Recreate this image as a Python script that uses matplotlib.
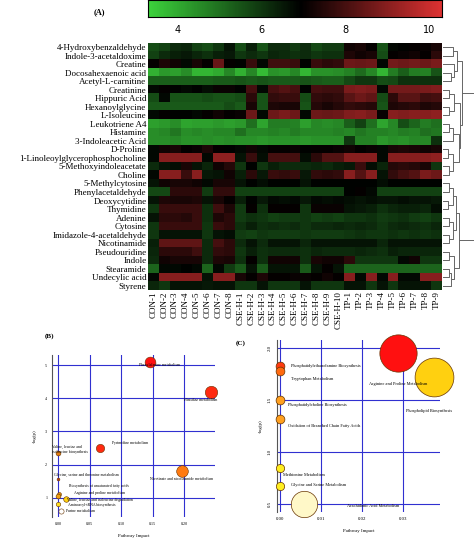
import matplotlib
matplotlib.use("Agg")
import matplotlib.pyplot as plt
import numpy as np
from matplotlib.colors import LinearSegmentedColormap

plt.rcParams['font.family'] = ['Liberation Serif', 'DejaVu Serif']

metabolites = ["4-Hydroxybenzaldehyde","Indole-3-acetaldoxime","Creatine","Docosahexaenoic acid",
 "Acetyl-L-carnitine","Creatinine","Hippuric Acid","Hexanoylglycine","L-Isoleucine","Leukotriene A4",
 "Histamine","3-Indoleacetic Acid","D-Proline","1-Linoleoylglycerophosphocholine","5-Methoxyindoleacetate",
 "Choline","5-Methylcytosine","Phenylacetaldehyde","Deoxycytidine","Thymidine","Adenine","Cytosine",
 "Imidazole-4-acetaldehyde","Nicotinamide","Pseudouridine","Indole","Stearamide","Undecylic acid","Styrene"]
samples = [f"CON-{i}" for i in range(1,9)] + [f"CSE-H-{i}" for i in range(1,11)] + [f"TP-{i}" for i in range(1,10)]

values = [
 [5.6,5.8,6.2,6.3,5.8,5.6,6.0,6.6, 5.6,6.4,5.5,6.2,6.2,5.9,6.2,5.7,5.9,5.9, 7.2,7.3,7.0,5.5,6.8,6.9,7.0,7.1,7.3],
 [5.8,6.2,6.4,6.5,6.3,6.1,6.4,6.5, 6.0,6.2,6.0,6.3,6.2,6.1,6.2,6.0,6.1,6.1, 7.4,7.2,7.3,5.6,7.0,7.1,7.2,7.0,7.6],
 [7.0,7.4,7.2,6.8,7.3,7.0,8.5,7.0, 6.9,7.8,6.8,7.9,7.9,7.8,6.9,7.8,7.6,7.7, 8.6,8.5,8.6,6.8,8.7,8.6,8.7,8.6,8.8],
 [3.9,4.3,4.2,4.5,3.8,3.8,4.0,4.6, 3.9,4.6,3.7,4.4,4.3,4.6,3.8,4.4,4.4,4.5, 4.7,5.1,4.6,3.8,4.8,5.3,4.8,4.7,5.5],
 [5.3,5.3,5.3,5.3,5.3,5.3,5.4,5.4, 5.5,5.4,5.5,5.4,5.4,5.4,5.5,5.4,5.3,5.3, 5.7,6.0,6.0,5.6,5.7,6.1,6.1,6.1,6.1],
 [6.8,7.0,6.9,6.8,6.9,6.7,7.1,7.1, 6.9,8.0,6.8,8.0,8.2,8.0,6.9,8.0,7.9,7.9, 8.8,8.9,8.8,6.8,8.7,8.7,8.7,8.8,8.9],
 [5.6,6.8,5.5,5.5,5.5,5.6,5.5,5.5, 5.6,7.6,5.5,7.7,7.8,7.8,5.6,7.7,7.6,7.7, 8.3,8.6,8.4,5.6,7.6,8.3,8.3,7.9,8.0],
 [5.4,5.4,5.4,5.4,5.4,5.4,5.4,5.6, 5.4,7.3,5.5,7.4,7.3,7.3,5.5,7.5,7.3,7.5, 7.7,7.6,7.5,5.5,7.4,7.5,7.6,7.4,7.5],
 [6.8,7.0,6.9,6.9,6.8,7.0,7.2,7.0, 7.1,8.6,6.8,8.6,8.8,8.6,6.8,8.6,8.5,8.6, 8.9,9.0,8.8,7.1,9.0,8.9,9.0,9.0,9.1],
 [4.2,4.3,4.5,4.1,4.2,4.2,4.3,4.2, 4.3,5.0,4.1,4.8,4.8,4.7,4.2,4.6,4.5,4.6, 5.3,5.8,5.0,4.1,4.6,5.6,5.2,4.8,5.0],
 [4.5,4.6,4.9,4.5,4.6,4.5,4.6,4.6, 5.0,4.6,4.6,4.7,4.6,4.8,4.6,4.6,4.6,4.7, 4.6,4.9,4.7,4.7,4.6,4.8,4.7,5.0,4.9],
 [4.5,4.5,4.6,4.4,4.4,4.5,4.4,4.5, 4.4,4.4,4.3,4.4,4.4,4.4,4.3,4.4,4.4,4.4, 6.0,4.7,4.7,4.3,4.5,4.4,4.6,4.6,6.1],
 [6.8,7.2,7.3,7.0,7.1,7.4,7.0,6.9, 6.8,7.2,6.8,7.0,7.0,7.1,6.9,7.0,7.0,7.1, 7.2,7.0,7.1,6.8,7.3,7.4,7.3,7.2,7.3],
 [6.8,9.0,9.0,9.0,9.0,6.8,9.1,9.1, 6.6,7.8,6.7,8.0,8.0,8.0,6.7,7.6,8.2,8.2, 9.0,9.0,9.0,6.8,9.0,9.0,9.0,9.0,9.1],
 [6.2,6.6,6.7,7.3,6.6,6.3,7.2,7.5, 6.0,6.9,6.0,6.4,6.2,6.2,6.2,6.3,6.2,6.4, 6.5,7.8,6.7,6.3,7.5,7.6,7.5,7.3,6.0],
 [6.8,9.0,9.0,7.8,9.0,6.5,6.6,7.2, 6.4,7.6,6.5,7.8,7.7,7.8,6.5,7.7,7.6,7.7, 9.0,8.2,9.0,6.6,7.7,8.0,8.2,8.8,8.6],
 [6.6,7.2,7.3,7.3,7.2,6.8,7.3,7.3, 6.6,6.9,6.7,6.9,6.9,6.9,6.6,6.9,6.9,6.9, 6.9,6.9,6.9,6.7,6.9,6.9,6.9,6.9,6.9],
 [5.7,5.7,7.6,7.6,7.6,5.9,7.7,7.7, 5.8,5.8,5.8,5.8,5.8,5.8,5.8,5.8,5.8,5.8, 6.9,7.0,6.8,5.8,5.8,5.8,5.8,5.8,5.8],
 [6.6,7.4,7.3,7.3,7.4,6.6,7.3,7.0, 6.4,6.9,6.5,6.8,6.7,6.8,6.5,6.8,6.7,6.8, 6.7,6.6,6.7,6.6,6.6,6.7,6.6,6.6,6.5],
 [6.0,7.8,7.8,7.8,7.8,6.1,7.9,7.4, 5.9,7.0,6.1,7.0,7.0,7.0,6.0,7.1,7.1,7.1, 6.6,6.5,6.4,6.1,6.3,6.4,6.4,6.3,6.7],
 [6.6,7.6,7.6,7.5,7.8,6.1,7.4,7.6, 5.9,6.1,6.0,5.8,5.9,5.9,6.0,5.8,5.9,5.8, 6.0,6.0,6.1,5.9,6.0,6.1,5.9,5.8,6.0],
 [6.0,7.8,7.8,7.8,7.8,6.0,7.8,7.6, 6.1,6.4,6.1,6.2,6.1,6.2,6.0,6.2,6.2,6.3, 6.2,6.3,6.2,6.0,6.2,6.3,6.2,6.1,6.3],
 [6.0,6.6,6.6,6.6,6.6,6.0,6.6,6.7, 5.9,5.8,6.0,5.9,5.9,5.9,6.0,5.9,5.9,5.9, 6.0,6.1,6.0,6.0,6.1,6.0,6.1,6.0,6.1],
 [6.4,8.4,8.4,8.4,8.4,6.2,8.0,7.6, 6.2,6.6,6.2,6.6,6.6,6.6,6.3,6.6,6.6,6.6, 6.6,6.6,6.6,6.3,6.6,6.6,6.6,6.6,6.6],
 [6.3,7.6,7.6,7.6,7.9,6.2,7.7,7.6, 6.0,6.4,6.1,6.2,6.2,6.2,6.1,6.3,6.2,6.2, 6.2,6.3,6.2,6.1,6.4,6.3,6.3,6.3,6.3],
 [6.2,7.2,7.3,7.3,7.3,6.2,7.4,7.3, 6.1,7.0,6.1,7.2,7.2,7.2,6.1,7.3,7.2,7.2, 7.6,6.0,6.0,6.0,6.0,6.8,7.2,6.0,6.0],
 [5.2,6.8,6.8,6.9,6.8,5.2,6.8,5.9, 5.4,6.6,5.4,6.6,6.6,6.6,5.4,6.6,7.0,6.6, 5.2,5.2,5.2,5.2,5.2,5.2,5.2,5.2,5.2],
 [6.8,9.0,9.0,9.0,9.0,6.6,9.0,9.0, 7.3,7.0,7.4,7.0,7.0,7.1,7.1,7.0,7.2,7.0, 9.0,6.8,9.0,6.8,9.0,6.8,6.8,9.0,9.0],
 [6.3,6.0,6.6,6.6,6.6,6.5,6.6,6.6, 6.0,6.0,6.6,6.0,6.0,6.0,6.6,6.0,6.0,6.0, 6.6,6.6,6.0,6.6,6.0,6.6,6.6,6.6,6.0],
]

# dendrogram merges: (left, right, height); leaf ids are row indices 0..28, new nodes from 29
merges = [(0,1,.3),(3,4,.25),(2,30,.35),(29,31,.45),(5,6,.2),(7,8,.2),(33,34,.35),
          (9,10,.2),(36,11,.3),(12,13,.15),(14,15,.2),(38,39,.3),(37,40,.5),(35,41,.55),(32,42,.6),
          (16,17,.2),(18,19,.15),(44,45,.3),(20,21,.2),(22,23,.2),(47,48,.3),(46,49,.4),
          (24,25,.2),(26,27,.2),(52,28,.25),(51,53,.35),(50,54,.5),(43,55,1.0)]

# panel B
b_names = ["Phenylalanine metabolism","Histidine metabolism","Pyrimidine metabolism",
           "Nicotinate and nicotinamide metabolism","Valine, leucine and\nisoleucine biosynthesis",
           "Glycine, serine and threonine metabolism","Biosynthesis of unsaturated fatty acids",
           "Arginine and proline metabolism","Valine, leucine and isoleucine degradation",
           "Aminoacyl-tRNA biosynthesis","Purine metabolism"]
b_x = [0.145, 0.242, 0.066, 0.197, 0.0, 0.0, 0.002, 0.0, 0.012, 0.0, 0.005]
b_y = [5.1, 4.2, 2.5, 1.8, 2.35, 1.55, 1.1, 1.05, 0.95, 0.8, 0.6]
b_size = [60, 80, 36, 70, 12, 4, 8, 12, 16, 10, 14]
b_col = ["#ff1010","#ff2a10","#ff2a10","#ff7a10","#e07a10","#c04010","#e09010","#f0a010","#ffd010","#ffe020","#ffffff"]
b_lab = [(0.128,5.0),(0.2,3.95),(0.085,2.65),(0.146,1.55),(-0.009,2.45),(-0.007,1.7),(0.018,1.35),(0.025,1.15),(0.014,0.93),(0.015,0.78),(0.013,0.6)]

# panel C
c_names = ["Phosphatidylethanolamine Biosynthesis","Tryptophan Metabolism","Phosphatidylcholine Biosynthesis",
           "Oxidation of Branched Chain Fatty Acids","Methionine Metabolism","Glycine and Serine Metabolism",
           "Arginine and Proline Metabolism","Phospholipid Biosynthesis","Arachidonic Acid Metabolism"]
c_x = [0.0, 0.0, 0.0, 0.0, 0.0, 0.0, 0.0287, 0.0375, 0.006]
c_y = [1.83, 1.78, 1.5, 1.32, 0.85, 0.67, 1.95, 1.72, 0.5]
c_size = [40, 40, 40, 40, 36, 36, 720, 780, 360]
c_col = ["#ff3a10","#ff6a10","#ffa020","#ffa020","#ffee20","#ffee20","#ff1010","#ffd010","#fff8c8"]
c_lab = [(0.002,1.83),(0.002,1.7),(0.0013,1.45),(0.0013,1.25),(0.0,0.78),(0.002,0.68),(0.021,1.65),(0.03,1.39),(0.0155,0.48)]

fig = plt.figure(figsize=(4.74,5.43), dpi=100)
cmap = LinearSegmentedColormap.from_list("gbr", [(0.0,"#3cd23c"),(0.52,"#000000"),(1.0,"#dc3232")])
vmin, vmax = 3.3, 10.3

# colorbar
cax = fig.add_axes([0.312, 0.969, 0.620, 0.031])
grad = np.linspace(vmin, vmax, 300)[None, :]
cax.imshow(grad, aspect='auto', cmap=cmap, vmin=vmin, vmax=vmax, extent=[vmin, vmax, 0, 1])
cax.set_yticks([]); cax.set_xticks([4,6,8,10])
cax.tick_params(length=0, labelsize=7, pad=6)
for l in cax.get_xticklabels(): l.set_family('DejaVu Sans')
fig.text(0.21, 0.978, "(A)", fontsize=6, weight='bold', ha='center', va='center')

# heatmap
hax = fig.add_axes([0.312, 0.466, 0.620, 0.455])
arr = np.array(values)
hax.imshow(arr, aspect='auto', cmap=cmap, vmin=vmin, vmax=vmax, interpolation='nearest')
hax.set_yticks(range(len(metabolites))); hax.set_yticklabels(metabolites, fontsize=6.5)
hax.set_xticks(range(len(samples))); hax.set_xticklabels(samples, rotation=90, fontsize=6.5)
hax.tick_params(length=0, pad=1)
for s in hax.spines.values(): s.set_visible(False)

# dendrogram
dax = fig.add_axes([0.932, 0.466, 0.068, 0.455])
pos = {i: (i, 0.0) for i in range(len(metabolites))}
nid = len(metabolites)
for a, b, h in merges:
    ya, ha = pos[a]; yb, hb = pos[b]
    dax.plot([ha, h, h, hb], [ya, ya, yb, yb], color='#666666', lw=0.7)
    pos[nid] = ((ya + yb) / 2, h); nid += 1
dax.set_ylim(len(metabolites) - 0.5, -0.5); dax.set_xlim(-0.05, 1.0)
dax.axis('off')

# panel B
bax = fig.add_axes([0.110, 0.048, 0.344, 0.298])
bax.set_xlim(-0.0095, 0.249); bax.set_ylim(0.42, 5.3)
bax.set_xticks([0.0,0.05,0.10,0.15,0.20]); bax.set_xticklabels(["0.00","0.05","0.10","0.15","0.20"])
bax.set_yticks([1,2,3,4,5])
bax.grid(True, color='#3030d0', lw=0.8); bax.set_axisbelow(True)
for k in ['top','right','bottom']: bax.spines[k].set_visible(False)
bax.spines['left'].set_color('#555555')
bax.tick_params(labelsize=3, length=0)
for x, y, s, c in zip(b_x, b_y, b_size, b_col):
    bax.scatter(x, y, s=s, c=c, edgecolors='#663300', linewidths=0.4, zorder=3, clip_on=False)
for n, (lx, ly) in zip(b_names, b_lab):
    bax.text(lx, ly, n, fontsize=2.8, va='center', zorder=4)
bax.set_xlabel("Pathway Impact", fontsize=3.5, labelpad=6)
bax.set_ylabel("-log(p)", fontsize=3.5, labelpad=6)
fig.text(0.095, 0.378, "(B)", fontsize=5, weight='bold')

# panel C
ccx = fig.add_axes([0.584, 0.057, 0.344, 0.317])
ccx.set_xlim(-0.0007, 0.039); ccx.set_ylim(0.423, 2.077)
ccx.set_xticks([0.0,0.01,0.02,0.03]); ccx.set_xticklabels(["0.00","0.01","0.02","0.03"])
ccx.set_yticks([0.5,1.0,1.5,2.0])
ccx.grid(True, color='#3030d0', lw=0.8); ccx.set_axisbelow(True)
for k in ['top','right','bottom']: ccx.spines[k].set_visible(False)
ccx.spines['left'].set_color('#555555')
ccx.tick_params(labelsize=3.5, length=0)
plt.setp(ccx.get_yticklabels(), rotation=90, va='center')
for x, y, s, c in zip(c_x, c_y, c_size, c_col):
    ccx.scatter(x, y, s=s, c=c, edgecolors='#663300', linewidths=0.5, zorder=3, clip_on=False)
for n, (lx, ly) in zip(c_names, c_lab):
    ccx.text(lx + 0.0008, ly, n, fontsize=3.2, va='center', zorder=4)
ccx.set_xlabel("Pathway Impact", fontsize=3.5, labelpad=6)
ccx.set_ylabel("-log(p)", fontsize=3.5, labelpad=4)
fig.text(0.497, 0.365, "(C)", fontsize=5, weight='bold')

fig.savefig("out.png", dpi=100)
